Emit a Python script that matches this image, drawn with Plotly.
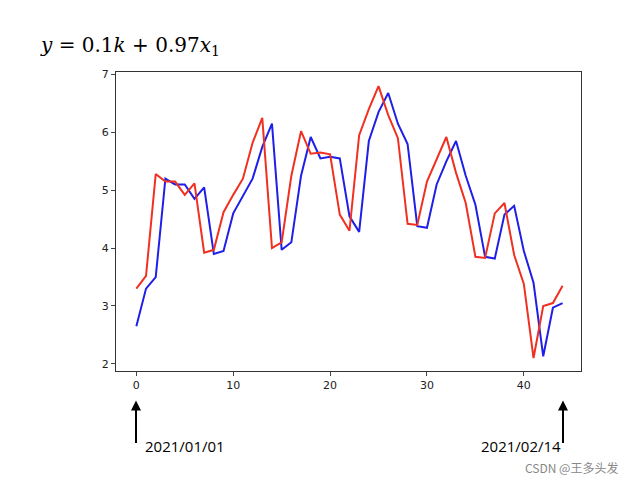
import plotly.graph_objects as go

days = list(range(45))
actual = [2.65,3.3,3.5,5.2,5.1,5.1,4.85,5.05,3.9,3.95,4.6,4.9,5.2,5.75,6.15,3.97,4.1,5.25,5.92,5.55,5.58,5.55,4.55,4.28,5.85,6.35,6.68,6.15,5.8,4.38,4.35,5.1,5.5,5.85,5.25,4.75,3.85,3.82,4.58,4.73,3.95,3.4,2.13,2.97,3.05]
predicted = [3.3,3.52,5.28,5.15,5.15,4.92,5.12,3.92,3.97,4.62,4.92,5.2,5.82,6.25,4.0,4.1,5.25,6.02,5.63,5.65,5.62,4.58,4.3,5.95,6.4,6.8,6.3,5.9,4.42,4.4,5.15,5.55,5.92,5.3,4.78,3.85,3.83,4.6,4.78,3.88,3.38,2.1,3.0,3.05,3.35]
x_ticks = [0,10,20,30,40]
y_ticks = [2,3,4,5,6,7]

fig = go.Figure()
fig.add_trace(go.Scatter(x=days, y=actual, mode="lines", line=dict(color="#1f1fe8", width=2)))
fig.add_trace(go.Scatter(x=days, y=predicted, mode="lines", line=dict(color="#f03020", width=2)))

W, H = 631, 485
L, R, T, B = 108, 573, 61, 362
fig.update_layout(
    width=W, height=H, margin=dict(l=0, r=0, t=0, b=0),
    paper_bgcolor="white", plot_bgcolor="white", showlegend=False,
    font=dict(family="DejaVu Sans", color="#222"),
    xaxis=dict(domain=[L/W, R/W], range=[-2.1, 45.9], tickvals=x_ticks,
               showgrid=False, zeroline=False, showline=True, linecolor="#333", mirror=True,
               ticks="outside", ticklen=4, tickfont=dict(size=11)),
    yaxis=dict(domain=[1-B/H, 1-T/H], range=[1.88, 7.05], tickvals=y_ticks,
               showgrid=False, zeroline=False, showline=True, linecolor="#333", mirror=True,
               ticks="outside", ticklen=4, tickfont=dict(size=11)),
)
fig.add_annotation(x=30/W, y=1-20/H, xref="paper", yref="paper", xanchor="left", showarrow=False,
                   text="<i>y</i> = 0.1<i>k</i> + 0.97<i>x</i><sub>1</sub>",
                   font=dict(family="DejaVu Serif", size=20, color="black"))
for px, label, lx in [(128, "2021/01/01", 135), (555, "2021/02/14", 555)]:
    fig.add_annotation(x=px/W, y=1-392/H, xref="paper", yref="paper", ax=0, ay=44,
                       showarrow=True, arrowhead=2, arrowsize=1, arrowwidth=2, arrowcolor="black", text="")
    fig.add_annotation(x=lx/W, y=1-450/H, xref="paper", yref="paper", showarrow=False,
                       text=label, font=dict(family="Open Sans", size=15, color="black"))
fig.add_annotation(x=612/W, y=1-470/H, xref="paper", yref="paper", xanchor="right", showarrow=False,
                   text="CSDN @王多头发", font=dict(family="Noto Sans CJK SC", size=12, color="#888"))
fig.write_html("out.html")
